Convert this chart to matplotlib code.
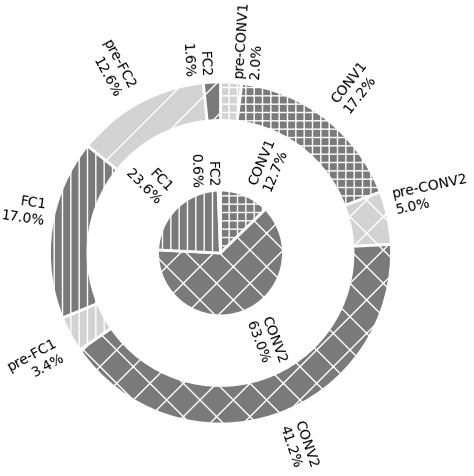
import matplotlib
matplotlib.use("Agg")
import matplotlib.pyplot as plt

# Outer ring data (clockwise from top)
outer_labels = ["pre-CONV1", "CONV1", "pre-CONV2", "CONV2", "pre-FC1", "FC1", "pre-FC2", "FC2"]
outer_values = [2.0, 17.2, 5.0, 41.2, 3.4, 17.0, 12.6, 1.6]

# Inner pie data
inner_labels = ["CONV1", "CONV2", "FC1", "FC2"]
inner_values = [12.7, 63.0, 23.6, 0.6]

DARK = "#7a7a7a"
LIGHT = "#d3d3d3"

hatch_of = {"CONV1": "++", "CONV2": "x", "FC1": "||", "FC2": "/"}

def style(name):
    base = name.replace("pre-", "")
    color = LIGHT if name.startswith("pre-") else DARK
    return color, hatch_of[base]

W, H = 474, 476
fig = plt.figure(figsize=(W / 100, H / 100), dpi=100)
ax = fig.add_axes([0, 0, 1, 1])

outer_text = [f"{n}\n{v:.1f}%" for n, v in zip(outer_labels, outer_values)]
inner_text = [f"{n}\n{v:.1f}%" for n, v in zip(inner_labels, inner_values)]

wedges_o, _ = ax.pie(outer_values, labels=outer_text, startangle=90, counterclock=False,
                     radius=1.0, labeldistance=1.02, rotatelabels=True,
                     colors=[style(n)[0] for n in outer_labels],
                     wedgeprops=dict(width=0.225, edgecolor="white", linewidth=2),
                     textprops=dict(fontsize=10))
for w, n in zip(wedges_o, outer_labels):
    w.set_hatch(style(n)[1])

r_in = 0.368
wedges_i, _ = ax.pie(inner_values, labels=inner_text, startangle=90, counterclock=False,
                     radius=r_in, labeldistance=1.03, rotatelabels=True,
                     colors=[style(n)[0] for n in inner_labels],
                     wedgeprops=dict(edgecolor="white", linewidth=2),
                     textprops=dict(fontsize=10))
for w, n in zip(wedges_i, inner_labels):
    w.set_hatch(style(n)[1])

cx, cy, R = 220.5, 253.0, 171.0
ax.set_aspect("auto")
ax.set_xlim(-cx / R, (W - cx) / R)
ax.set_ylim(-(H - cy) / R, cy / R)
ax.axis("off")

fig.savefig("out.png", dpi=100)
